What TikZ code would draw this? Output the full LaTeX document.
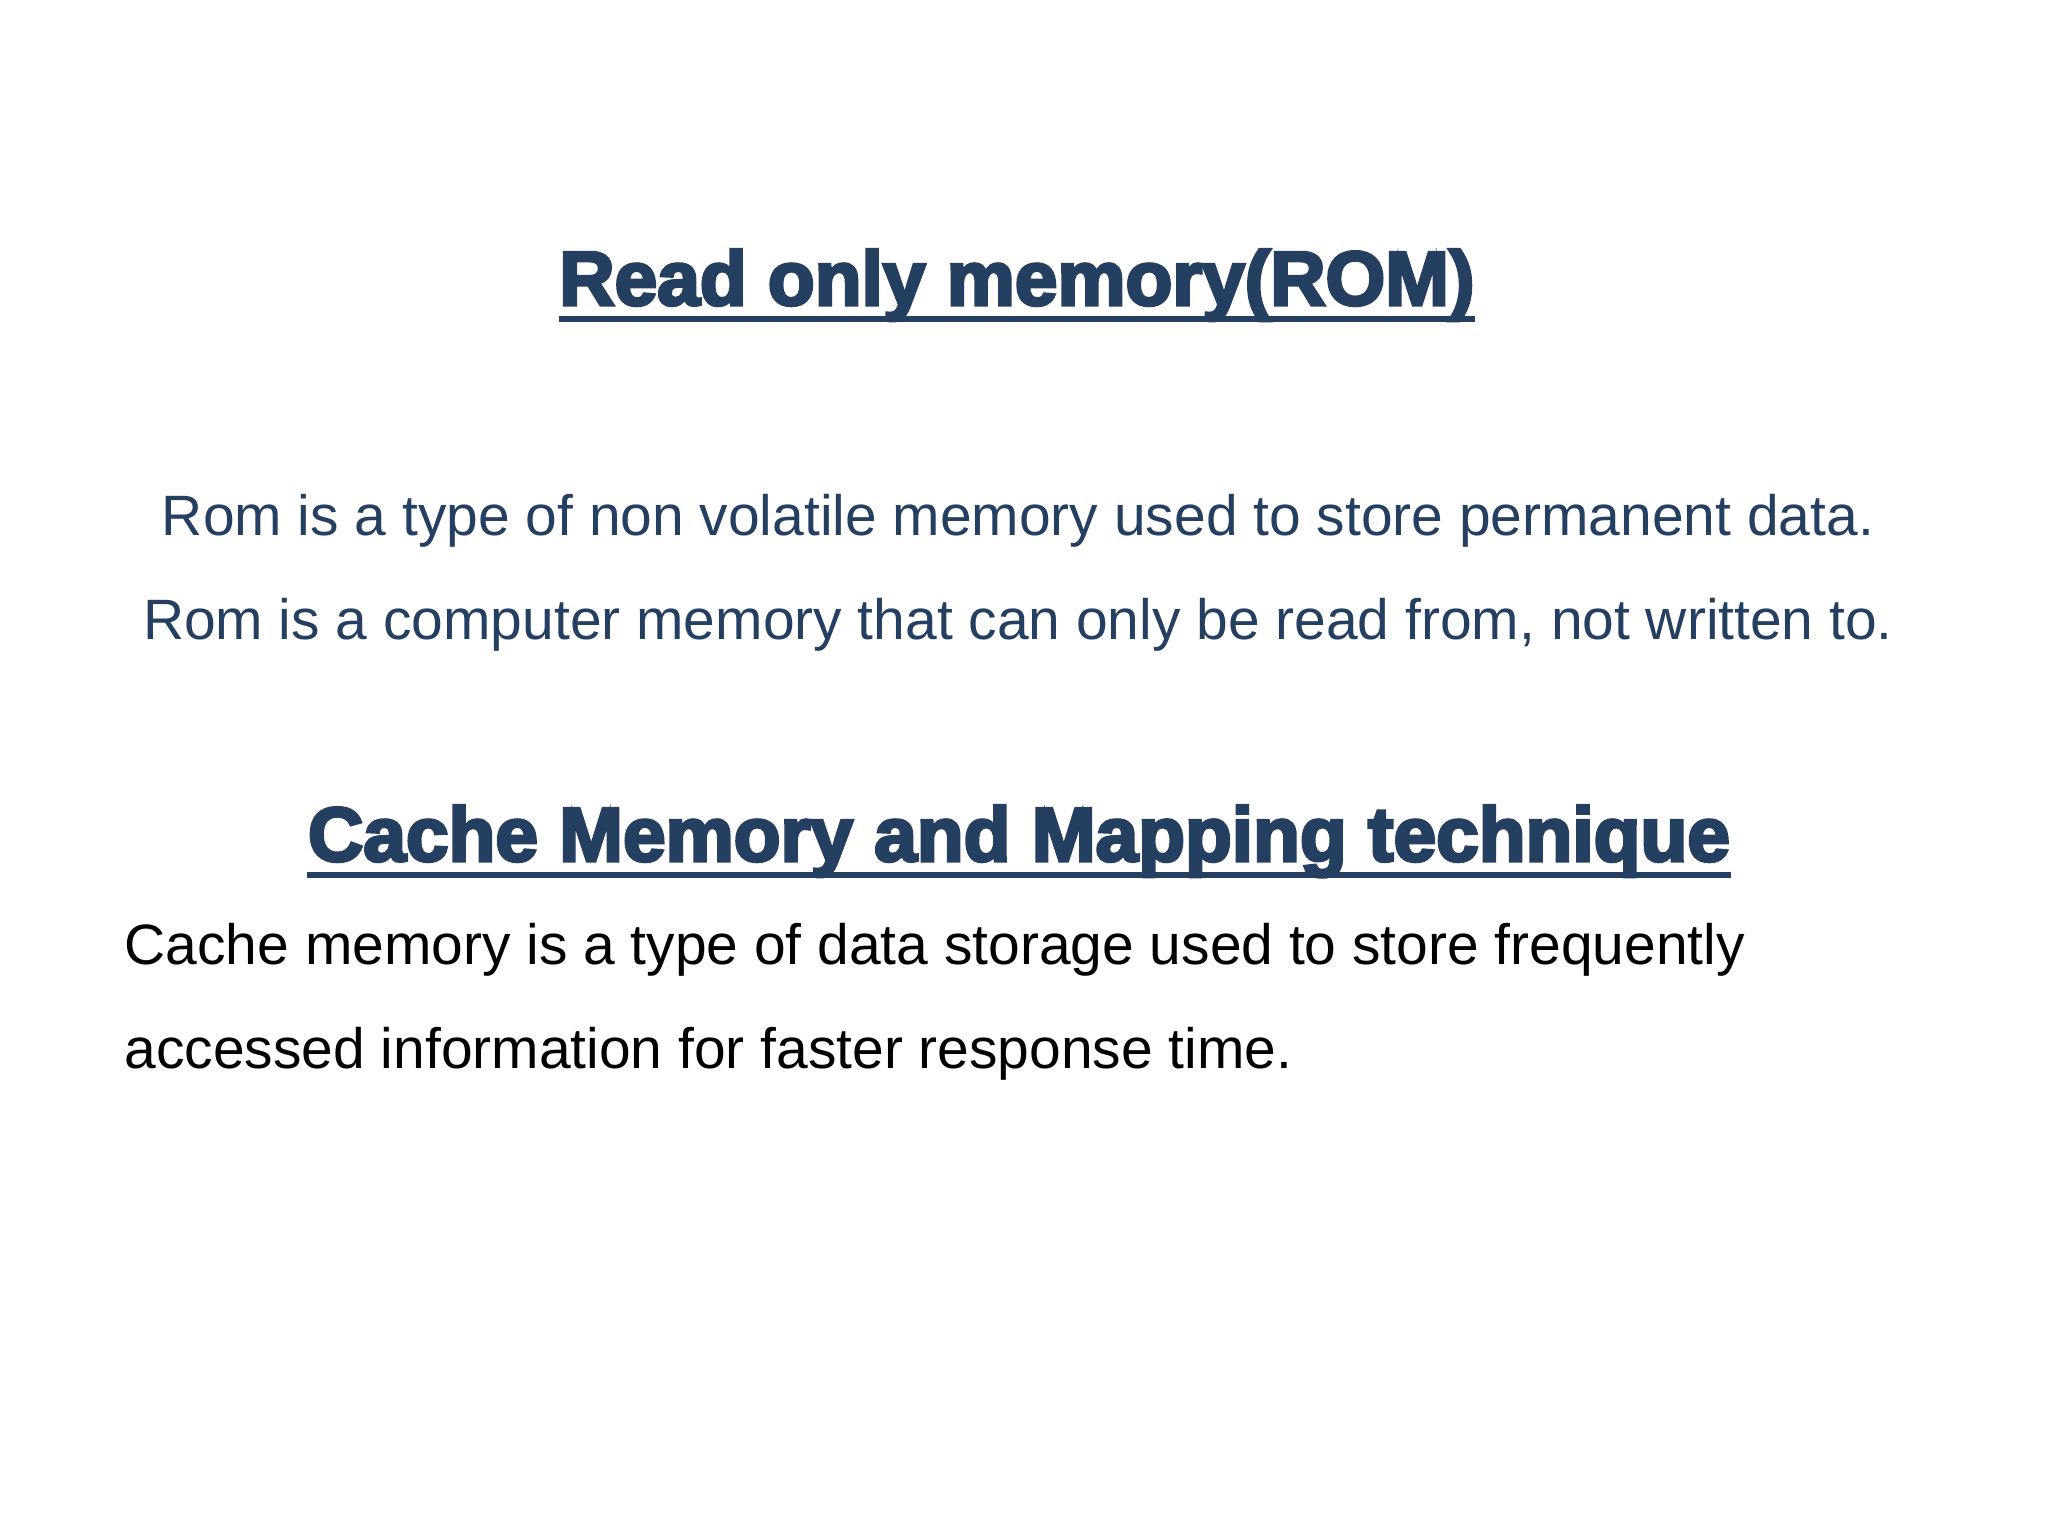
\documentclass[tikz,border=0pt]{standalone}
\usepackage{fontspec}
\setmainfont{Liberation Sans}
\newfontfamily\headfont[FakeBold=4]{Liberation Sans Bold}
\definecolor{navy}{HTML}{253F60}
\begin{document}
\begin{tikzpicture}[x=1cm,y=1cm,
  head/.style={font=\headfont\fontsize{21.8}{26}\selectfont, text=navy, inner sep=0pt},
  bodyb/.style={font=\fontsize{16.2}{19}\selectfont, text=navy, inner sep=0pt},
  bodyk/.style={font=\fontsize{16.2}{19}\selectfont, text=black, inner sep=0pt, anchor=base west},
  uline/.style={draw=navy, line width=1.6pt}]
\useasboundingbox (0,0) rectangle (20.48,-15.36);
\node[head, anchor=base] (t1) at (10.17,-3.05) {Read only memory(ROM)};
\draw[uline] ([yshift=-4pt]t1.base west) -- ([yshift=-4pt]t1.base east);
\node[bodyb, anchor=base] (l1) at (10.18,-5.36) {Rom is a type of non volatile memory used to store permanent data.};
\node[bodyb, anchor=base] (l2) at (10.18,-6.40) {Rom is a computer memory that can only be read from, not written to.};
\node[head, anchor=base] (t2) at (10.19,-8.61) {Cache Memory and Mapping technique};
\draw[uline] ([yshift=-4pt]t2.base west) -- ([yshift=-4pt]t2.base east);
\node[bodyk] (c1) at (1.24,-9.64) {Cache memory is a type of data storage used to store frequently};
\node[bodyk] (c2) at (1.24,-10.68) {accessed information for faster response time.};
\end{tikzpicture}
\end{document}
